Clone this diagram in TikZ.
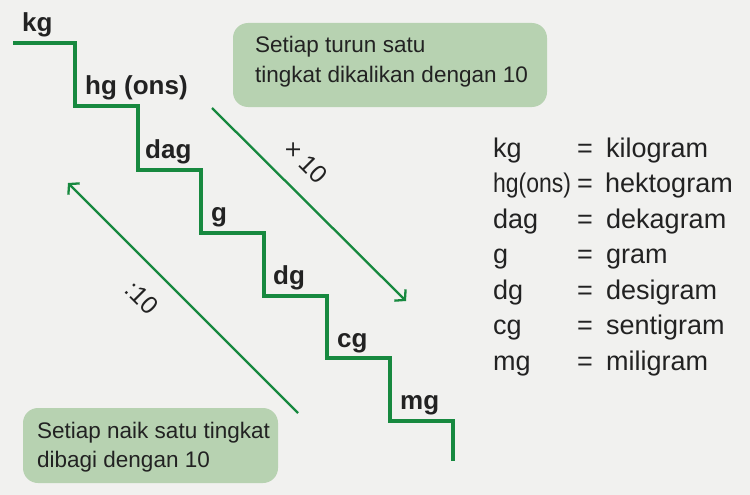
\documentclass[tikz,border=0pt]{standalone}
\usepackage{fontspec}
\setmainfont{Liberation Sans}
\usetikzlibrary{arrows.meta}
\definecolor{bg}{HTML}{F1F1EF}
\definecolor{stair}{HTML}{17893F}
\definecolor{boxfill}{HTML}{B7D2B1}
\definecolor{txt}{HTML}{222222}
\tikzset{
  unitlbl/.style={anchor=base west, inner sep=0pt, font=\fontsize{26}{28}\selectfont\bfseries, text=txt},
  tbl/.style={anchor=base west, inner sep=0pt, font=\fontsize{27}{29}\selectfont, text=txt},
  boxtxt/.style={anchor=base west, inner sep=0pt, font=\fontsize{22.5}{24}\selectfont, text=txt},
  infobox/.style={fill=boxfill, rounded corners=15pt, draw=none},
  arr/.style={draw=stair, line width=2.3pt, -{Straight Barb[length=7pt,width=16pt,line width=2.3pt]}},
  arrlbl/.style={inner sep=0pt, font=\fontsize{25}{27}\selectfont, text=txt, rotate=-45},
}
\begin{document}
\begin{tikzpicture}[x=1pt,y=-1pt]
\fill[bg] (0,0) rectangle (750,495);
\useasboundingbox (0,0) rectangle (750,495);

% staircase
\draw[stair, line width=4pt, line join=miter]
  (13,43) -- (75,43) -- (75,106) -- (138,106) -- (138,170) -- (201,170) -- (201,233)
  -- (264,233) -- (264,296) -- (327,296) -- (327,358) -- (390,358) -- (390,421)
  -- (453,421) -- (453,461);

\node[unitlbl] (kg) at (22,32) {kg};
\node[unitlbl] (hg) at (85,95) {hg (ons)};
\node[unitlbl] (dag) at (145,158) {dag};
\node[unitlbl] (g) at (211,221) {g};
\node[unitlbl] (dg) at (273,284) {dg};
\node[unitlbl] (cg) at (337,347) {cg};
\node[unitlbl] (mg) at (400,409) {mg};

% info boxes
\path[infobox] (233,23) rectangle (547,107);
\node[boxtxt] (t1) at (255,53) {Setiap turun satu};
\node[boxtxt] (t2) at (255,83) {tingkat dikalikan dengan 10};

\path[infobox] (23,408) rectangle (278,483);
\node[boxtxt] (b1) at (37,438) {Setiap naik satu tingkat};
\node[boxtxt] (b2) at (37,467) {dibagi dengan 10};

% arrows
\coordinate (d1) at (212,108);
\coordinate (d2) at (406,301);
\draw[arr] (d1) -- (d2);
\node[arrlbl] (xl) at (306,162) {× 10};

\coordinate (u1) at (298,413);
\coordinate (u2) at (68,183);
\draw[arr] (u1) -- (u2);
\node[arrlbl] (dl) at (142,298) {:10};

% table
\foreach \i/\a/\b in {0/kg/kilogram, 2/dag/dekagram, 3/g/gram, 4/dg/desigram, 5/cg/sentigram, 6/mg/miligram}{
  \node[tbl] (a\i) at (493,157+35.5*\i) {\a};
  \node[tbl, anchor=base] (e\i) at (585,157+35.5*\i) {=};
  \node[tbl] (n\i) at (606,157+35.5*\i) {\b};
}
\node[tbl] (a1) at (493,192.5) {\scalebox{0.85}[1]{hg(ons)}};
\node[tbl, anchor=base] (e1) at (585,192.5) {=};
\node[tbl] (n1) at (605,192.5) {hektogram};
\end{tikzpicture}
\end{document}
